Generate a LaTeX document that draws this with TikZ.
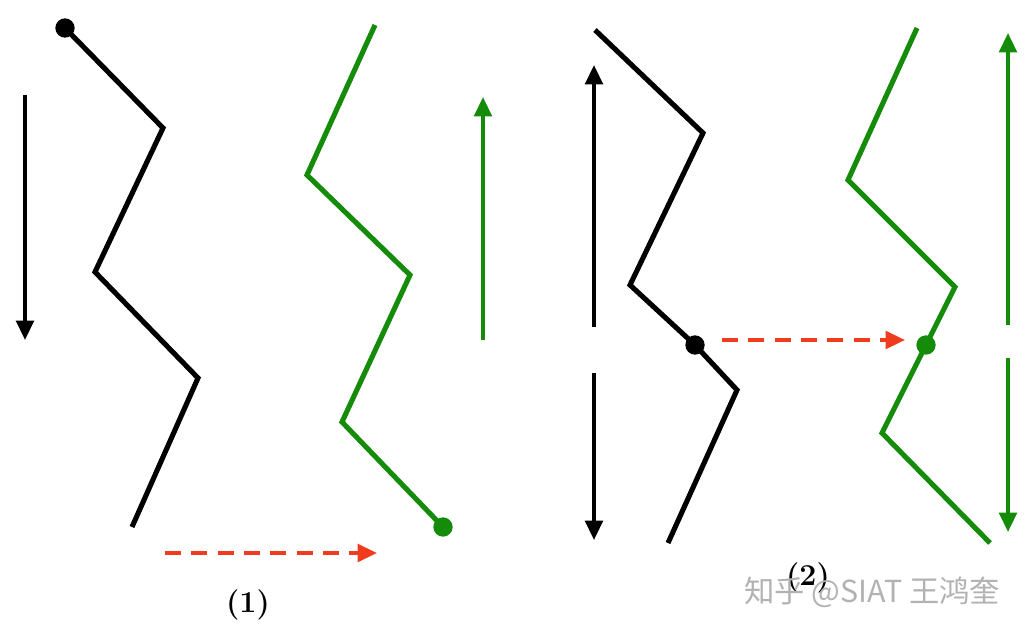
\documentclass[tikz,border=0pt]{standalone}
\usepackage{fontspec}
\newfontfamily\cjk{Noto Sans CJK SC}
\usetikzlibrary{arrows.meta}
\definecolor{gr}{RGB}{20,140,10}
\definecolor{rd}{RGB}{240,60,30}
\begin{document}
\begin{tikzpicture}[x=0.02cm,y=-0.02cm,
  zz/.style={line width=2.9pt,line join=miter},
  ar/.style={line width=2pt,-{Triangle[length=11pt,width=10pt]}},
  rdash/.style={rd,line width=2pt,dash pattern=on 9pt off 6pt,-{Triangle[length=11pt,width=10pt]}},
  dot/.style={circle,fill,inner sep=0pt,minimum size=11pt},
  lab/.style={font=\bfseries\LARGE}]
\useasboundingbox (0,0) rectangle (1030,635);
% panel 1
\node[dot] (d1) at (65,28) {};
\draw[zz] (d1.center) -- (163,128) -- (95,272) -- (198,378) -- (132,527);
\coordinate (a1s) at (25,95); \coordinate (a1e) at (25,340);
\draw[ar] (a1s) -- (a1e);
\node[dot,gr] (d2) at (443,527) {};
\draw[zz,gr] (375,25) -- (307,175) -- (410,275) -- (342,422) -- (d2.center);
\coordinate (a2s) at (483,340); \coordinate (a2e) at (483,97);
\draw[ar,gr] (a2s) -- (a2e);
\coordinate (r1s) at (165,553); \coordinate (r1e) at (377,553);
\draw[rdash] (r1s) -- (r1e);
\node[lab] (l1) at (248,605) {(1)};
% panel 2
\node[dot] (d3) at (695,345) {};
\draw[zz] (595,30) -- (703,133) -- (630,285) -- (d3.center) -- (737,390) -- (668,543);
\coordinate (b1) at (594,327); \coordinate (b2) at (594,65);
\coordinate (b3) at (594,373); \coordinate (b4) at (594,540);
\draw[ar] (b1) -- (b2); \draw[ar] (b3) -- (b4);
\node[dot,gr] (d4) at (926,345) {};
\draw[zz,gr] (917,28) -- (848,180) -- (955,287) -- (d4.center) -- (882,433) -- (990,543);
\coordinate (g1) at (1008,325); \coordinate (g2) at (1008,33);
\coordinate (g3) at (1008,358); \coordinate (g4) at (1008,532);
\draw[ar,gr] (g1) -- (g2); \draw[ar,gr] (g3) -- (g4);
\coordinate (r2s) at (722,340); \coordinate (r2e) at (905,340);
\draw[rdash] (r2s) -- (r2e);
\node[lab] (l2) at (808,578) {(2)};
\node[font=\cjk\LARGE,text=gray!60,anchor=west] (wm) at (738,592) {知乎 @SIAT 王鸿奎};
\end{tikzpicture}
\end{document}
